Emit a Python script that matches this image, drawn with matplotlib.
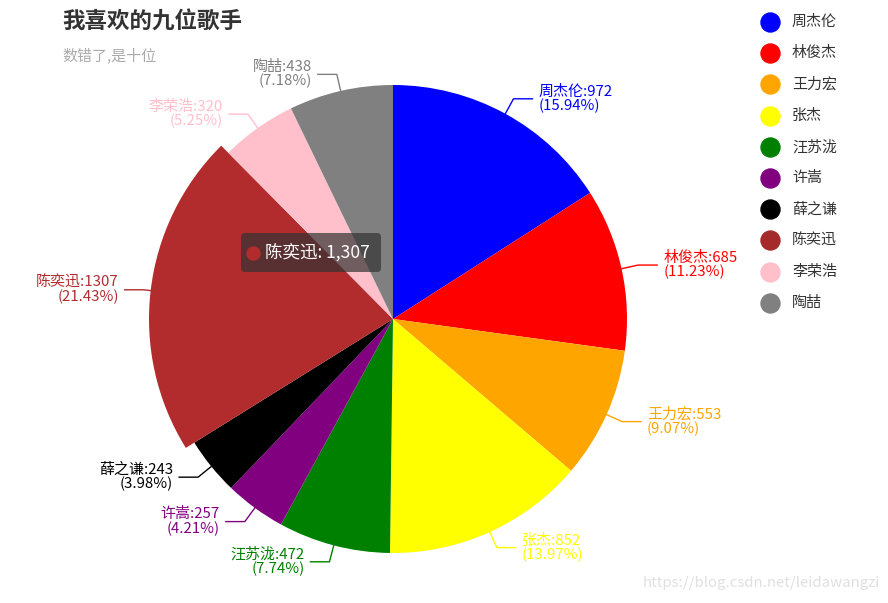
import matplotlib.pyplot as plt
import numpy as np
from matplotlib.patches import FancyBboxPatch

plt.rcParams['font.family'] = ['Noto Sans CJK SC', 'DejaVu Sans']

# data
singers = ['周杰伦', '林俊杰', '王力宏', '张杰', '汪苏泷', '许嵩', '薛之谦', '陈奕迅', '李荣浩', '陶喆']
votes = [972, 685, 553, 852, 472, 257, 243, 1307, 320, 438]
colors = ['#0000FF', '#FF0000', '#FFA500', '#FFFF00', '#008000',
          '#800080', '#000000', '#A52A2A', '#FFC0CB', '#808080']
highlight = '陈奕迅'

W, H = 888, 603
PX = 0.72  # points per pixel at dpi 100

fig = plt.figure(figsize=(W / 100, H / 100), dpi=100)
ax = fig.add_axes([0, 0, 1, 1])

cx, cy, r = 393, H - 319, 234
wedges, _ = ax.pie(votes, colors=colors, startangle=90, counterclock=False,
                   center=(cx, cy), radius=r, wedgeprops=dict(linewidth=0))
ax.set_xlim(0, W)
ax.set_ylim(0, H)
ax.set_aspect('equal')
ax.axis('off')

# hovered slice grows a bit
hi = singers.index(highlight)
hi_color = '#B22C2E'
wedges[hi].set_radius(r + 10)
wedges[hi].set_facecolor(hi_color)

# outside labels with two-segment guide lines
total = sum(votes)
L1, L2 = 17, 19
for i, w in enumerate(wedges):
    ang = np.deg2rad((w.theta1 + w.theta2) / 2)
    x0, y0 = cx + r * np.cos(ang), cy + r * np.sin(ang)
    x1, y1 = cx + (r + L1) * np.cos(ang), cy + (r + L1) * np.sin(ang)
    side = 1 if np.cos(ang) >= 0 else -1
    x2 = x1 + side * L2
    col = colors[i] if i != hi else hi_color
    ax.plot([x0, x1, x2], [y0, y1, y1], color=col, lw=1, zorder=1)
    txt = f'{singers[i]}:{votes[i]}\n({votes[i] / total * 100:.2f}%)'
    ax.text(x2 + side * 6, y1, txt, color=col, fontsize=15 * PX,
            ha='left' if side > 0 else 'right', va='center',
            multialignment='left' if side > 0 else 'right', linespacing=1.0)

# title
ax.text(62, H - 22, '我喜欢的九位歌手', fontsize=22.5 * PX, fontweight='bold',
        color='#333333', ha='left', va='center')
ax.text(62, H - 55, '数错了,是十位', fontsize=15 * PX, color='#aaaaaa',
        ha='left', va='center')

# legend
for i, name in enumerate(singers):
    ly = H - (22 + i * 31.2)
    ax.scatter([770], [ly], s=(19 * PX) ** 2, color=colors[i], zorder=5)
    ax.text(792, ly, name, fontsize=15 * PX, color='#333333', ha='left', va='center')

# tooltip
box = FancyBboxPatch((241, H - 272), 140, 39, boxstyle='round,pad=0,rounding_size=4',
                     facecolor=(0.2, 0.2, 0.2, 0.7), edgecolor='none', zorder=6)
ax.add_patch(box)
ax.scatter([253], [H - 253], s=(13 * PX) ** 2, color=hi_color, zorder=7)
ax.text(265, H - 253, f'{highlight}: {votes[hi]:,}', fontsize=17.5 * PX, color='white',
        ha='left', va='center', zorder=7)

# watermark
ax.text(880, H - 583, 'https://blog.csdn.net/leidawangzi', fontsize=15 * PX,
        color='#e0e0e0', ha='right', va='center')

fig.savefig('out.png', dpi=100)
